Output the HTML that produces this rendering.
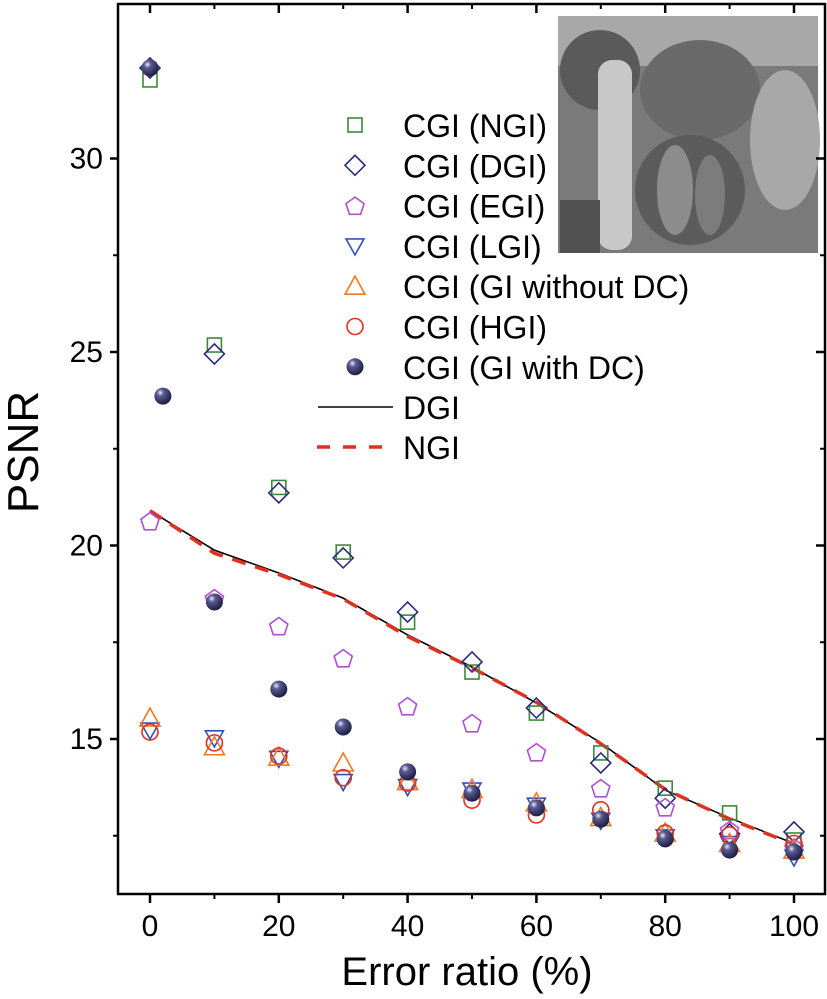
<!DOCTYPE html>
<html><head><meta charset="utf-8"><style>
body{margin:0;background:#fff}
svg{display:block;font-family:"Liberation Sans",Arial,sans-serif}
</style></head><body>
<svg id="chart" width="827" height="999" viewBox="0 0 827 999">
<defs>
<radialGradient id="sph" cx="0.35" cy="0.3" r="0.7">
<stop offset="0" stop-color="#e8e8ff"/><stop offset="0.3" stop-color="#5a5a90"/><stop offset="1" stop-color="#1e1e44"/>
</radialGradient>
</defs>
<g id="inset">
<rect x="558" y="16" width="260" height="237" fill="#7a7a7a"/>
<rect x="558" y="16" width="260" height="50" fill="#a8a8a8"/>
<ellipse cx="600" cy="70" rx="40" ry="40" fill="#5a5a5a"/>
<ellipse cx="700" cy="90" rx="60" ry="50" fill="#6a6a6a"/>
<rect x="598" y="60" width="34" height="190" rx="14" fill="#c8c8c8"/>
<ellipse cx="690" cy="190" rx="55" ry="55" fill="#5c5c5c"/>
<ellipse cx="675" cy="190" rx="18" ry="45" fill="#8c8c8c"/>
<ellipse cx="710" cy="195" rx="15" ry="40" fill="#7c7c7c"/>
<ellipse cx="785" cy="140" rx="35" ry="70" fill="#a8a8a8"/>
<rect x="560" y="200" width="40" height="53" fill="#505050"/>
</g>
<g id="axes"></g>
<g id="lines"></g>
<g id="marks"></g>
<g id="legend"></g>
<text x="467" y="985" font-size="40" text-anchor="middle">Error ratio (%)</text>
<text x="0" y="0" font-size="44" text-anchor="middle" transform="translate(38,452) rotate(-90)">PSNR</text>
</svg>
<script>
const xs=[0,10,20,30,40,50,60,70,80,90,100];
const ngi=[32.03,25.18,21.5,19.83,18.02,16.73,15.67,14.64,13.73,13.09,12.39];
const dgi=[32.34,24.95,21.36,19.68,18.28,16.99,15.8,14.38,13.47,12.55,12.6];
const egi=[20.63,18.64,17.92,17.09,15.85,15.41,14.66,13.73,13.24,12.65,12.2];
const lgi=[15.23,15.03,14.5,13.9,13.77,13.68,13.29,12.9,12.47,12.3,11.95];
const giNoDc=[15.54,14.8,14.53,14.38,13.9,13.7,13.35,12.97,12.57,12.3,12.13];
const hgi=[15.18,14.9,14.56,14.0,13.86,13.42,13.04,13.17,12.57,12.52,12.3];
const giDcX=[0,2,10,20,30,40,50,60,70,80,90,100];
const giDc=[32.34,23.86,18.54,16.29,15.31,14.15,13.6,13.22,12.93,12.42,12.13,12.08];
const dgiLine=[20.9,19.88,19.29,18.64,17.69,16.86,15.93,14.9,13.68,12.96,12.3];
const ngiLine=[20.9,19.8,19.25,18.62,17.65,16.84,15.95,14.88,13.7,12.93,12.28];
const xTicks=[0,20,40,60,80,100];
const yTicks=[15,20,25,30];
const yMinor=[12.5,17.5,22.5,27.5];
const xMinor=[10,30,50,70,90];

const X=v=>150+v*6.44, Y=v=>739-(v-15)*38.7;
const L=118,R=825,T=4,B=894;
const NS='http://www.w3.org/2000/svg';
function mk(tag,attrs,parent){const e=document.createElementNS(NS,tag);for(const k in attrs)e.setAttribute(k,attrs[k]);parent.appendChild(e);return e;}
const ax=document.getElementById('axes');
let fr=mk('rect',{x:L,y:T,width:R-L,height:B-T,fill:'none',stroke:'#000','stroke-width':2.5},ax);


xTicks.forEach(v=>{
 mk('line',{x1:X(v),x2:X(v),y1:B,y2:B+9,stroke:'#000','stroke-width':2.5},ax);
 mk('line',{x1:X(v),x2:X(v),y1:T,y2:T+9,stroke:'#000','stroke-width':2.5},ax);
 const t=mk('text',{x:X(v),y:936,'font-size':30,'text-anchor':'middle'},ax);t.textContent=v;
 
 
});
xMinor.forEach(v=>{mk('line',{x1:X(v),x2:X(v),y1:B,y2:B+5,stroke:'#000','stroke-width':2},ax);mk('line',{x1:X(v),x2:X(v),y1:T,y2:T+5,stroke:'#000','stroke-width':2},ax);});
yTicks.forEach(v=>{
 mk('line',{x1:L-8,x2:L,y1:Y(v),y2:Y(v),stroke:'#000','stroke-width':2.5},ax);
 mk('line',{x1:R-9,x2:R,y1:Y(v),y2:Y(v),stroke:'#000','stroke-width':2.5},ax);
 const t=mk('text',{x:103,y:Y(v)+10,'font-size':30,'text-anchor':'end'},ax);t.textContent=v;
 
 
});
yMinor.forEach(v=>{mk('line',{x1:L-5,x2:L,y1:Y(v),y2:Y(v),stroke:'#000','stroke-width':2},ax);mk('line',{x1:R-5,x2:R,y1:Y(v),y2:Y(v),stroke:'#000','stroke-width':2},ax);});

const ln=document.getElementById('lines');
let p1=mk('polyline',{points:xs.map((x,i)=>X(x)+','+Y(dgiLine[i])).join(' '),fill:'none',stroke:'#000','stroke-width':1.6},ln);


let p2=mk('polyline',{points:xs.map((x,i)=>X(x)+','+Y(ngiLine[i])).join(' '),fill:'none',stroke:'#e03020','stroke-width':3.5,'stroke-dasharray':'14,10'},ln);



function sym(type,cx,cy,g){
 if(type==='sq')return mk('rect',{x:cx-7,y:cy-7,width:14,height:14,fill:'none',stroke:'#3a8a3a','stroke-width':1.6},g);
 if(type==='di')return mk('polygon',{points:`${cx},${cy-10} ${cx+10},${cy} ${cx},${cy+10} ${cx-10},${cy}`,fill:'none',stroke:'#2a2a80','stroke-width':1.6},g);
 if(type==='pe'){let p=[];for(let k=0;k<5;k++){const a=-Math.PI/2+k*2*Math.PI/5;p.push((cx+9.5*Math.cos(a))+','+(cy+1+9.5*Math.sin(a)));}return mk('polygon',{points:p.join(' '),fill:'none',stroke:'#b050d0','stroke-width':1.6},g);}
 if(type==='dn')return mk('polygon',{points:`${cx-9},${cy-7} ${cx+9},${cy-7} ${cx},${cy+9}`,fill:'none',stroke:'#3050c0','stroke-width':1.6},g);
 if(type==='up')return mk('polygon',{points:`${cx-10},${cy+8} ${cx+10},${cy+8} ${cx},${cy-10}`,fill:'none',stroke:'#f07820','stroke-width':1.6},g);
 if(type==='ci')return mk('circle',{cx:cx,cy:cy,r:8,fill:'none',stroke:'#e03020','stroke-width':1.6},g);
 if(type==='sp')return mk('circle',{cx:cx,cy:cy,r:8.5,fill:'url(#sph)'},g);
}
const mg=document.getElementById('marks');
const series=[['sq',xs,ngi,'ngi'],['di',xs,dgi,'dgi'],['pe',xs,egi,'egi'],['dn',xs,lgi,'lgi'],['up',xs,giNoDc,'gi-without-dc'],['ci',xs,hgi,'hgi'],['sp',giDcX,giDc,'gi-with-dc']];
series.forEach(([t,xa,ya,n])=>{xa.forEach((x,i)=>{const e=sym(t,X(x),Y(ya[i]),mg);
 
 });});

const lg=document.getElementById('legend');
const labels=['CGI (NGI)','CGI (DGI)','CGI (EGI)','CGI (LGI)','CGI (GI without DC)','CGI (HGI)','CGI (GI with DC)'];
series.forEach(([t],i)=>{const y=125+i*40.3;sym(t,355,y,lg);
 const tx=mk('text',{x:403,y:y+12,'font-size':32},lg);tx.textContent=labels[i];
 
 });
mk('line',{x1:318,x2:393,y1:407,y2:407,stroke:'#000','stroke-width':1.6},lg);
let t1=mk('text',{x:403,y:419,'font-size':32},lg);t1.textContent='DGI';


mk('line',{x1:317,x2:386,y1:447,y2:447,stroke:'#e03020','stroke-width':3.5,'stroke-dasharray':'13,13'},lg);
let t2=mk('text',{x:403,y:459,'font-size':32},lg);t2.textContent='NGI';


</script>
</body></html>
